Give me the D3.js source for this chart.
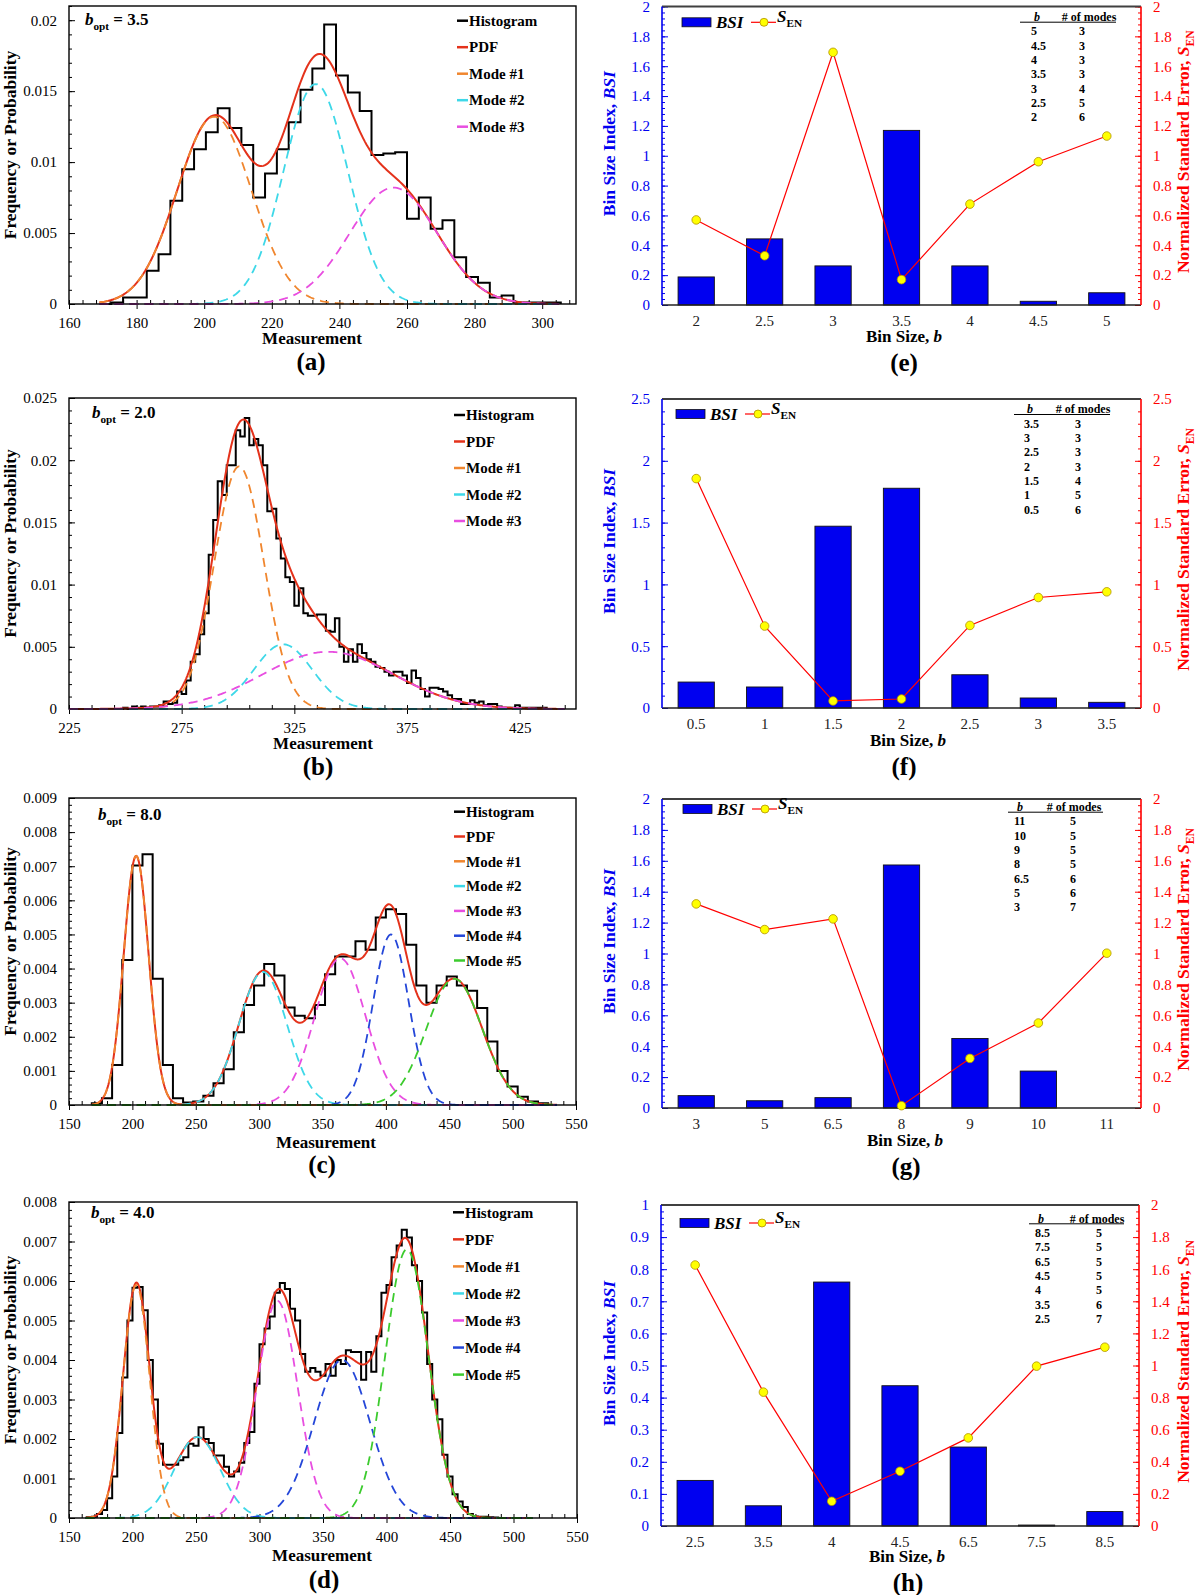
<!DOCTYPE html>
<html lang="en">
<head>
<meta charset="utf-8" />
<script src="https://cdn.jsdelivr.net/npm/d3@7/dist/d3.min.js"></script>
<style>
  body { margin: 0; background: #fff; }
  svg { display: block; font-family: "Liberation Serif", "Times New Roman", serif; }
</style>
</head>
<body>
<div id="container"></div>
<script>
// ---------- data: histograms (probability per bin) ----------
const histA_start = 169, histA_bin = 3.5;
const histA = [0, 0.0001, 0.00045, 0.00045, 0.00235, 0.0035, 0.00727, 0.0095, 0.0109, 0.0121,
  0.0138, 0.0124, 0.0112, 0.0075, 0.0092, 0.0109, 0.0128, 0.0151, 0.0166, 0.0197,
  0.0161, 0.0149, 0.0136, 0.0105, 0.0106, 0.0107, 0.006, 0.0075, 0.0053, 0.0059,
  0.0033, 0.0019, 0.0015, 0.00045, 0.0006, 0.0001, 0.0001, 0.0001, 0.0001];

const histB_start = 245, histB_bin = 2;
const histB = [0, 0, 0.0001, 0, 0.0002, 0.0001, 0.0002, 0.0001, 0.0002, 0.0002,
  0.0003, 0.0006, 0.0004, 0.0005, 0.0014, 0.0012, 0.0023, 0.0038, 0.0044, 0.006,
  0.0077, 0.0124, 0.0152, 0.0183, 0.0172, 0.0196, 0.0196, 0.0224, 0.0219, 0.0234,
  0.0212, 0.0217, 0.0212, 0.0196, 0.0159, 0.0161, 0.0137, 0.0121, 0.0106, 0.0102,
  0.0083, 0.0097, 0.0077, 0.0075, 0.0075, 0.0076, 0.0076, 0.0063, 0.0062, 0.0073,
  0.005, 0.0038, 0.0048, 0.0038, 0.0052, 0.0045, 0.004, 0.0038, 0.0034, 0.0033,
  0.003, 0.0027, 0.003, 0.003, 0.0027, 0.0021, 0.0031, 0.0025, 0.0016, 0.001,
  0.0017, 0.0017, 0.0016, 0.0014, 0.0011, 0.0008, 0.0008, 0.0004, 0.0004, 0.0007,
  0.0005, 0.0006, 0.0003, 0.0004, 0.0004, 0.0002, 0.0001, 0.0001, 0.0001, 0.0003,
  0.0001, 0.0001, 0.0001, 0.0001, 0.0001, 0.0001];

const histC_start = 168, histC_bin = 8;
const histC = [0.00005, 0.0002, 0.00117, 0.00425, 0.00702, 0.00735, 0.0037, 0.00117, 0.0002, 0.00007,
  0.0001, 0.00027, 0.00064, 0.00105, 0.00213, 0.00293, 0.0035, 0.00413, 0.0038, 0.00286,
  0.00262, 0.00254, 0.00293, 0.00383, 0.00435, 0.00435, 0.0048, 0.00455, 0.0055, 0.00574,
  0.0056, 0.0047, 0.0035, 0.003, 0.0035, 0.00377, 0.0035, 0.00335, 0.00284, 0.00186,
  0.001, 0.00054, 0.00024, 0.0001, 0.00005];

const histD_start = 164, histD_bin = 4;
const histD = [0.00002, 0.00003, 0.0001, 0.0002, 0.0005, 0.00105, 0.00215, 0.00356, 0.005, 0.00583,
  0.00585, 0.00526, 0.004, 0.003, 0.00188, 0.00135, 0.00135, 0.00135, 0.00146, 0.00154,
  0.00188, 0.00183, 0.0023, 0.002, 0.0019, 0.00158, 0.00158, 0.0013, 0.00105, 0.00118,
  0.0014, 0.0019, 0.00218, 0.0034, 0.0044, 0.0048, 0.0051, 0.0057, 0.00595, 0.0058,
  0.0053, 0.005, 0.00415, 0.0037, 0.0038, 0.0037, 0.0036, 0.0039, 0.0036, 0.004,
  0.0039, 0.00425, 0.0042, 0.0042, 0.0035, 0.0042, 0.0037, 0.0046, 0.0057, 0.0059,
  0.0066, 0.0069, 0.0073, 0.0071, 0.0064, 0.006, 0.0052, 0.0039, 0.003, 0.0025,
  0.0016, 0.00105, 0.0006, 0.00042, 0.00028, 0.0001, 0.00004, 0.00003, 0.00003, 0.00002,
  0.00001];

// ---------- data: fitted Gaussian modes (mean, sd, peak height) ----------
const modeA_mean = [203, 233, 256], modeA_sd = [11, 9.5, 13], modeA_peak = [0.0132, 0.0155, 0.0082];
const modeB_mean = [300.5, 320, 340], modeB_sd = [11, 13, 29], modeB_peak = [0.0195, 0.0052, 0.0046];
const modeC_mean = [203, 303, 364, 404, 454], modeC_sd = [9.8, 19, 20, 14, 22];
const modeC_peak = [0.0073, 0.0039, 0.0043, 0.005, 0.0037];
const modeD_mean = [203, 251, 314, 365, 416], modeD_sd = [10.5, 18, 16, 22, 17];
const modeD_peak = [0.0059, 0.00205, 0.0055, 0.004, 0.0068];

// ---------- data: bin size index and normalized standard error ----------
const binsE = ["2", "2.5", "3", "3.5", "4", "4.5", "5"];
const bsiE = [0.188, 0.443, 0.262, 1.17, 0.262, 0.025, 0.082];
const senE = [0.57, 0.33, 1.693, 0.17, 0.676, 0.96, 1.132];
const tabE_b = ["5", "4.5", "4", "3.5", "3", "2.5", "2"], tabE_n = ["3", "3", "3", "3", "4", "5", "6"];

const binsF = ["0.5", "1", "1.5", "2", "2.5", "3", "3.5"];
const bsiF = [0.21, 0.17, 1.471, 1.778, 0.269, 0.081, 0.046];
const senF = [1.856, 0.663, 0.057, 0.073, 0.668, 0.894, 0.94];
const tabF_b = ["3.5", "3", "2.5", "2", "1.5", "1", "0.5"], tabF_n = ["3", "3", "3", "3", "4", "5", "6"];

const binsG = ["3", "5", "6.5", "8", "9", "10", "11"];
const bsiG = [0.08, 0.047, 0.067, 1.573, 0.45, 0.239, 0];
const senG = [1.321, 1.155, 1.224, 0.015, 0.321, 0.55, 1.002];
const tabG_b = ["11", "10", "9", "8", "6.5", "5", "3"], tabG_n = ["5", "5", "5", "5", "6", "6", "7"];

const binsH = ["2.5", "3.5", "4", "4.5", "6.5", "7.5", "8.5"];
const bsiH = [0.142, 0.063, 0.76, 0.437, 0.246, 0.003, 0.045];
const senH = [1.626, 0.834, 0.154, 0.341, 0.549, 0.996, 1.114];
const tabH_b = ["8.5", "7.5", "6.5", "4.5", "4", "3.5", "2.5"], tabH_n = ["5", "5", "5", "5", "5", "6", "7"];

// ---------- styling ----------
const FONT = "'Liberation Serif', 'Times New Roman', serif";
const PDF_COLOR = "#E4321B";
const MODE_COLORS = ["#F0862E", "#3ED8E8", "#E84EE0", "#2446D8", "#3CCB2E"];
const BLUE = "#0000F0", RED = "#FF0000";
const fmt = d => String(+d.toFixed(4));

const svg = d3.select("#container").append("svg")
  .attr("width", 1200).attr("height", 1595)
  .style("font-family", FONT);
svg.append("rect").attr("width", 1200).attr("height", 1595).attr("fill", "#fff");
const defs = svg.append("defs");

// text made of parts: {t, italic, sub}
function rich(sel, parts, size) {
  let shift = 0;
  sel.attr("font-size", size);
  parts.forEach(p => {
    const s = p.sub ? size * 0.27 : 0;
    sel.append("tspan")
      .attr("dy", s - shift)
      .attr("font-size", p.sub ? size * 0.66 : size)
      .attr("font-style", p.italic ? "italic" : "normal")
      .text(p.t);
    shift = s;
  });
  return sel;
}

function styleAxis(g, color, size) {
  g.select(".domain").remove();
  g.selectAll(".tick line").attr("stroke", color).attr("stroke-width", 1);
  g.selectAll(".tick text").attr("fill", color).attr("font-size", size).attr("font-family", FONT);
}

// ---------- histogram panels ----------
function drawHist(p) {
  const x = d3.scaleLinear().domain(p.xDomain).range([p.left, p.right]);
  const y = d3.scaleLinear().domain([0, p.yMax]).range([p.bottom, p.top]);
  const g = svg.append("g");

  const yMajor = d3.range(0, p.yMax + 1e-9, p.yStep).map(v => +v.toFixed(5));
  const yMinor = d3.range(0, p.yMax + 1e-9, p.yStep / 5).map(v => +v.toFixed(6));
  g.append("g").attr("transform", `translate(${p.left},0)`)
    .call(d3.axisLeft(y).tickValues(yMinor).tickSize(-3).tickFormat(""))
    .call(a => styleAxis(a, "#000", 15));
  g.append("g").attr("transform", `translate(${p.left},0)`)
    .call(d3.axisLeft(y).tickValues(yMajor).tickSize(-6).tickPadding(12).tickFormat(fmt))
    .call(a => styleAxis(a, "#000", 15));

  const xMajor = d3.range(p.xDomain[0], p.xDomain[1] + 1e-9, p.xStep);
  const xMinor = d3.range(p.xDomain[0], p.xDomain[1] + 1e-9, p.xStep / 5);
  g.append("g").attr("transform", `translate(0,${p.bottom})`)
    .call(d3.axisBottom(x).tickValues(xMinor).tickSize(-4).tickFormat(""))
    .call(a => styleAxis(a, "#000", 15));
  g.append("g").attr("transform", `translate(0,${p.bottom})`)
    .call(d3.axisBottom(x).tickValues(xMajor).tickSize(5).tickPadding(8).tickFormat(d3.format("d")))
    .call(a => styleAxis(a, "#000", 15));

  const clipId = "clip-" + p.id;
  defs.append("clipPath").attr("id", clipId).append("rect")
    .attr("x", p.left).attr("y", p.top - 2)
    .attr("width", p.right - p.left).attr("height", p.bottom - p.top + 4);
  const plot = g.append("g").attr("clip-path", `url(#${clipId})`);

  // histogram outline
  const pts = [[p.histStart, 0]];
  p.hist.forEach((h, i) => pts.push([p.histStart + i * p.bin, h]));
  pts.push([p.histStart + p.hist.length * p.bin, 0]);
  const line = d3.line().x(d => x(d[0])).y(d => y(d[1]));
  plot.append("path").attr("d", line.curve(d3.curveStepAfter)(pts))
    .attr("fill", "none").attr("stroke", "#000").attr("stroke-width", 2);

  // fitted modes and their sum
  const xs = d3.range(p.range[0], p.range[1] + 1e-9, 0.5);
  const modes = p.means.map((m, k) => xs.map(v => [v, p.peaks[k] * Math.exp(-0.5 * ((v - m) / p.sds[k]) ** 2)]));
  const pdf = xs.map((v, i) => [v, d3.sum(modes, md => md[i][1])]);
  const smooth = d3.line().x(d => x(d[0])).y(d => y(d[1]));
  plot.append("path").attr("d", smooth(pdf))
    .attr("fill", "none").attr("stroke", PDF_COLOR).attr("stroke-width", 2);
  modes.forEach((md, k) => {
    plot.append("path").attr("d", smooth(md))
      .attr("fill", "none").attr("stroke", MODE_COLORS[k]).attr("stroke-width", 1.8)
      .attr("stroke-dasharray", "9,6");
  });

  // frame
  g.append("rect").attr("x", p.left).attr("y", p.top)
    .attr("width", p.right - p.left).attr("height", p.bottom - p.top)
    .attr("fill", "none").attr("stroke", "#000").attr("stroke-width", 1.4);

  // legend
  const names = ["Histogram", "PDF"].concat(p.means.map((m, k) => "Mode #" + (k + 1)));
  const colors = ["#000", PDF_COLOR].concat(MODE_COLORS);
  names.forEach((n, i) => {
    const ly = p.legY + i * p.legDy;
    g.append("line").attr("x1", p.legX).attr("x2", p.legX + 11).attr("y1", ly).attr("y2", ly)
      .attr("stroke", colors[i]).attr("stroke-width", 2.5);
    g.append("text").attr("x", p.legX + 12).attr("y", ly).attr("dy", "0.35em")
      .attr("font-size", 15).attr("font-weight", "bold").text(n);
  });

  // b_opt label
  rich(g.append("text").attr("x", p.boptX).attr("y", p.boptY).attr("dy", "0.35em").attr("font-weight", "bold"),
    [{ t: "b", italic: true }, { t: "opt", sub: true }, { t: " = " + p.bopt }], 17);

  // titles
  g.append("text").attr("transform", `translate(10,${(p.top + p.bottom) / 2 - 10}) rotate(-90)`)
    .attr("text-anchor", "middle").attr("dy", "0.35em")
    .attr("font-size", 17.5).attr("font-weight", "bold").text("Frequency or Probability");
  g.append("text").attr("x", p.titleX).attr("y", p.titleY).attr("dy", "0.35em")
    .attr("text-anchor", "middle").attr("font-size", 17).attr("font-weight", "bold").text("Measurement");
  g.append("text").attr("x", p.labelX).attr("y", p.labelY).attr("dy", "0.35em")
    .attr("text-anchor", "middle").attr("font-size", 25).attr("font-weight", "bold").text(`(${p.id})`);
}

// ---------- BSI / S_EN panels ----------
function drawBars(p) {
  const x = d3.scaleBand().domain(p.bins).range([p.left, p.right]).paddingInner(0.47).paddingOuter(0.235);
  const yL = d3.scaleLinear().domain([0, p.yLMax]).range([p.bottom, p.top]);
  const yR = d3.scaleLinear().domain([0, p.yRMax || 2]).range([p.bottom, p.top]);
  const g = svg.append("g");

  const lMajor = d3.range(0, p.yLMax + 1e-9, p.yLStep).map(v => +v.toFixed(3));
  const lMinor = d3.range(0, p.yLMax + 1e-9, p.yLStep / 5).map(v => +v.toFixed(4));
  const rMax = yR.domain()[1];
  const rMajor = d3.range(0, rMax + 1e-9, p.yRStep).map(v => +v.toFixed(3));
  const rMinor = d3.range(0, rMax + 1e-9, p.yRStep / 5).map(v => +v.toFixed(4));

  g.append("g").attr("transform", `translate(${p.left},0)`)
    .call(d3.axisLeft(yL).tickValues(lMinor).tickSize(-3).tickFormat(""))
    .call(a => styleAxis(a, BLUE, 15));
  g.append("g").attr("transform", `translate(${p.left},0)`)
    .call(d3.axisLeft(yL).tickValues(lMajor).tickSize(-6).tickPadding(12).tickFormat(fmt))
    .call(a => styleAxis(a, BLUE, 15));
  g.append("g").attr("transform", `translate(${p.right},0)`)
    .call(d3.axisRight(yR).tickValues(rMinor).tickSize(-3).tickFormat(""))
    .call(a => styleAxis(a, RED, 15));
  g.append("g").attr("transform", `translate(${p.right},0)`)
    .call(d3.axisRight(yR).tickValues(rMajor).tickSize(-6).tickPadding(12).tickFormat(fmt))
    .call(a => styleAxis(a, RED, 15));
  g.append("g").attr("transform", `translate(0,${p.bottom})`)
    .call(d3.axisBottom(x).tickSize(0).tickPadding(10))
    .call(a => styleAxis(a, "#222", 15));

  // bars
  g.selectAll(null).data(p.bins).join("rect")
    .attr("x", d => x(d)).attr("width", x.bandwidth())
    .attr("y", (d, i) => yL(p.bsi[i])).attr("height", (d, i) => yL(0) - yL(p.bsi[i]))
    .attr("fill", BLUE).attr("stroke", "#111").attr("stroke-width", 0.9);

  // frame lines
  g.append("line").attr("x1", p.left).attr("x2", p.right).attr("y1", p.top).attr("y2", p.top)
    .attr("stroke", "#404040").attr("stroke-width", 2);
  g.append("line").attr("x1", p.left).attr("x2", p.right).attr("y1", p.bottom).attr("y2", p.bottom)
    .attr("stroke", "#222").attr("stroke-width", 1.5);
  g.append("line").attr("x1", p.left).attr("x2", p.left).attr("y1", p.top).attr("y2", p.bottom)
    .attr("stroke", BLUE).attr("stroke-width", 1.6);
  g.append("line").attr("x1", p.right).attr("x2", p.right).attr("y1", p.top).attr("y2", p.bottom)
    .attr("stroke", RED).attr("stroke-width", 1.6);

  // S_EN line
  const cx = d => x(d) + x.bandwidth() / 2;
  g.append("path")
    .attr("d", d3.line().x(d => cx(d)).y((d, i) => yR(p.sen[i]))(p.bins))
    .attr("fill", "none").attr("stroke", RED).attr("stroke-width", 1.2);
  g.selectAll(null).data(p.bins).join("circle")
    .attr("cx", d => cx(d)).attr("cy", (d, i) => yR(p.sen[i])).attr("r", 4.3)
    .attr("fill", "#FFFF00").attr("stroke", "#B09000").attr("stroke-width", 0.8);

  // legend
  const L = p.leg;
  g.append("rect").attr("x", L.x).attr("y", L.y - 4.5).attr("width", 29).attr("height", 9)
    .attr("fill", BLUE).attr("stroke", "#111").attr("stroke-width", 0.8);
  g.append("text").attr("x", L.x + 34).attr("y", L.y).attr("dy", "0.35em")
    .attr("font-size", 17).attr("font-weight", "bold").attr("font-style", "italic").text("BSI");
  g.append("line").attr("x1", L.x + 69).attr("x2", L.x + 94).attr("y1", L.y).attr("y2", L.y)
    .attr("stroke", RED).attr("stroke-width", 1.2);
  g.append("circle").attr("cx", L.x + 82).attr("cy", L.y).attr("r", 4)
    .attr("fill", "#FFFF00").attr("stroke", "#B09000").attr("stroke-width", 0.8);
  rich(g.append("text").attr("x", L.x + 95).attr("y", L.y).attr("dy", "0.35em").attr("font-weight", "bold"),
    [{ t: "S", italic: true }, { t: "EN", sub: true }], 17);

  // small table of b and number of modes
  const T = p.table;
  g.append("text").attr("x", T.bx + 3).attr("y", T.y).attr("dy", "0.35em")
    .attr("font-size", 12).attr("font-weight", "bold").attr("font-style", "italic").text("b");
  g.append("text").attr("x", T.hx).attr("y", T.y).attr("dy", "0.35em").attr("text-anchor", "middle")
    .attr("font-size", 12).attr("font-weight", "bold").text("# of modes");
  g.append("line").attr("x1", T.x1).attr("x2", T.x2).attr("y1", T.y + 5.5).attr("y2", T.y + 5.5)
    .attr("stroke", "#000").attr("stroke-width", 1);
  p.tabB.forEach((b, i) => {
    const ty = T.y + 14.5 + i * 14.3;
    g.append("text").attr("x", T.bx).attr("y", ty).attr("dy", "0.35em")
      .attr("font-size", 12).attr("font-weight", "bold").text(b);
    g.append("text").attr("x", T.nx).attr("y", ty).attr("dy", "0.35em")
      .attr("font-size", 12).attr("font-weight", "bold").text(p.tabN[i]);
  });

  // axis titles
  const cy = (p.top + p.bottom) / 2;
  rich(g.append("text").attr("transform", `translate(615,${cy - 12}) rotate(-90)`)
      .attr("text-anchor", "middle").attr("dy", "0.35em").attr("font-weight", "bold").attr("fill", BLUE),
    [{ t: "Bin Size Index, " }, { t: "BSI", italic: true }], 17.5);
  rich(g.append("text").attr("transform", `translate(1189,${cy - 4}) rotate(-90)`)
      .attr("text-anchor", "middle").attr("dy", "0.35em").attr("font-weight", "bold").attr("fill", RED),
    [{ t: "Normalized Standard Error, " }, { t: "S", italic: true }, { t: "EN", sub: true }], 17.5);
  rich(g.append("text").attr("x", p.titleX).attr("y", p.titleY).attr("dy", "0.35em")
      .attr("text-anchor", "middle").attr("font-weight", "bold"),
    [{ t: "Bin Size, " }, { t: "b", italic: true }], 17);
  g.append("text").attr("x", p.labelX).attr("y", p.labelY).attr("dy", "0.35em")
    .attr("text-anchor", "middle").attr("font-size", 25).attr("font-weight", "bold").text(`(${p.id})`);
}

// ---------- layout ----------
drawHist({ id: "a", left: 69, right: 576, top: 6, bottom: 304, xDomain: [160, 310], xStep: 20,
  yMax: 0.021, yStep: 0.005, hist: histA, histStart: histA_start, bin: histA_bin,
  means: modeA_mean, sds: modeA_sd, peaks: modeA_peak, range: [169, 305],
  legX: 457, legY: 20.7, legDy: 26.5, bopt: "3.5", boptX: 85, boptY: 25,
  titleX: 312, titleY: 338, labelX: 311, labelY: 361 });
drawHist({ id: "b", left: 69, right: 576, top: 398, bottom: 709, xDomain: [225, 450], xStep: 50,
  yMax: 0.025, yStep: 0.005, hist: histB, histStart: histB_start, bin: histB_bin,
  means: modeB_mean, sds: modeB_sd, peaks: modeB_peak, range: [225, 445],
  legX: 454, legY: 415, legDy: 26.5, bopt: "2.0", boptX: 92, boptY: 418,
  titleX: 323, titleY: 743, labelX: 318, labelY: 766 });
drawHist({ id: "c", left: 69, right: 576, top: 798, bottom: 1105, xDomain: [150, 550], xStep: 50,
  yMax: 0.009, yStep: 0.001, hist: histC, histStart: histC_start, bin: histC_bin,
  means: modeC_mean, sds: modeC_sd, peaks: modeC_peak, range: [168, 535],
  legX: 454, legY: 811.7, legDy: 24.8, bopt: "8.0", boptX: 98, boptY: 820,
  titleX: 326, titleY: 1142, labelX: 322, labelY: 1164 });
drawHist({ id: "d", left: 69, right: 577, top: 1202, bottom: 1518, xDomain: [150, 550], xStep: 50,
  yMax: 0.008, yStep: 0.001, hist: histD, histStart: histD_start, bin: histD_bin,
  means: modeD_mean, sds: modeD_sd, peaks: modeD_peak, range: [163, 515],
  legX: 453, legY: 1212.3, legDy: 27.05, bopt: "4.0", boptX: 91, boptY: 1218,
  titleX: 322, titleY: 1555, labelX: 324, labelY: 1579 });

drawBars({ id: "e", left: 662, right: 1141, top: 6.5, bottom: 305, bins: binsE, bsi: bsiE, sen: senE,
  yLMax: 2, yLStep: 0.2, yRStep: 0.2, tabB: tabE_b, tabN: tabE_n,
  leg: { x: 682, y: 22.3 }, table: { x1: 1020, x2: 1116, y: 16.7, bx: 1031, nx: 1079, hx: 1089 },
  titleX: 904, titleY: 342, labelX: 904, labelY: 362 });
drawBars({ id: "f", left: 662, right: 1141, top: 399, bottom: 708, bins: binsF, bsi: bsiF, sen: senF,
  yLMax: 2.5, yLStep: 0.5, yRMax: 2.5, yRStep: 0.5, tabB: tabF_b, tabN: tabF_n,
  leg: { x: 676, y: 414 }, table: { x1: 1014, x2: 1110, y: 409, bx: 1024, nx: 1075, hx: 1083 },
  titleX: 908, titleY: 746, labelX: 904, labelY: 766 });
drawBars({ id: "g", left: 662, right: 1141, top: 799, bottom: 1108, bins: binsG, bsi: bsiG, sen: senG,
  yLMax: 2, yLStep: 0.2, yRStep: 0.2, tabB: tabG_b, tabN: tabG_n,
  leg: { x: 683, y: 809 }, table: { x1: 1008, x2: 1103, y: 806.7, bx: 1014, nx: 1070, hx: 1074 },
  titleX: 905, titleY: 1146, labelX: 906, labelY: 1166 });
drawBars({ id: "h", left: 661, right: 1139, top: 1205, bottom: 1526, bins: binsH, bsi: bsiH, sen: senH,
  yLMax: 1, yLStep: 0.1, yRStep: 0.2, tabB: tabH_b, tabN: tabH_n,
  leg: { x: 680, y: 1223 }, table: { x1: 1029, x2: 1124, y: 1218.3, bx: 1035, nx: 1096, hx: 1097 },
  titleX: 907, titleY: 1562, labelX: 908, labelY: 1582 });
</script>
</body>
</html>
